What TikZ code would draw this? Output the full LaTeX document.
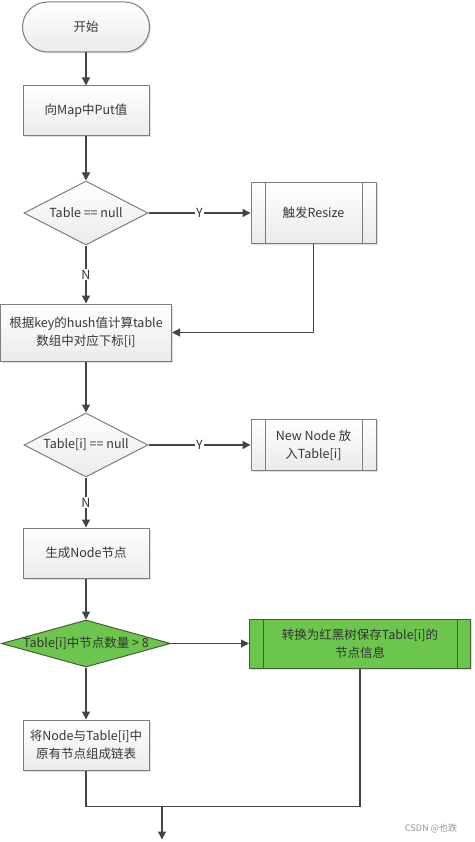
\documentclass[tikz,border=0pt]{standalone}
\usepackage{fontspec}
\setmainfont{Noto Sans CJK SC}
\usepackage{tikz}
\usetikzlibrary{arrows.meta,shapes,positioning,shadows}
\usepackage{xcolor}
\definecolor{fcline}{RGB}{68,68,68}
\definecolor{fcborder}{RGB}{125,125,125}
\definecolor{fctext}{RGB}{55,55,55}
\definecolor{fcgreen}{RGB}{108,198,78}
\definecolor{fcgreenborder}{RGB}{70,95,55}
\definecolor{fcmark}{RGB}{150,150,150}
\tikzstyle{arrow} = [line width=1.2pt,->,>={Triangle[length=8pt,width=8pt]},color=fcline]
\tikzstyle{line} = [line width=1.2pt,color=fcline]
\tikzstyle{procnode} = [rectangle, minimum width=126pt, minimum height=50pt, inner sep=0pt, align=center, draw=fcborder, top color=white, bottom color=black!8, line width=1pt, text=fctext, drop shadow={opacity=0.25,shadow xshift=1.5pt,shadow yshift=-1.5pt}]
\tikzstyle{termnode} = [procnode, rounded corners=25pt, minimum width=127pt]
\tikzstyle{decnode} = [diamond, aspect=2, minimum width=124pt, minimum height=64pt, inner sep=0pt, align=center, draw=fcborder, top color=white, bottom color=black!8, line width=1pt, text=fctext]
\tikzstyle{subnode} = [procnode, minimum width=125pt]
\tikzstyle{lbl} = [fill=white, inner sep=1pt, text=fctext]

\begin{document}
\begin{tikzpicture}[x=1pt, y=-1pt, font=\fontsize{12.5}{18}\selectfont]
\useasboundingbox[fill=white] (0,0) rectangle (474,842);

\node[termnode] (start) at (86,27) {开始};
\node[procnode, below=33pt of start] (put) {向Map中Put值};
\node[decnode, below=44pt of put] (d1) {Table == null};
\node[subnode, minimum height=60pt, right=102pt of d1] (resize) {触发Resize};
\node[procnode, minimum width=171pt, minimum height=57pt, below=58pt of d1] (hash) {根据key的hush值计算table\\数组中对应下标[i]};
\node[decnode, below=51pt of hash] (d2) {Table[i] == null};
\node[subnode, minimum height=51pt, right=102pt of d2] (newnode) {New Node 放\\入Table[i]};
\node[procnode, below=50pt of d2] (gen) {生成Node节点};
\node[decnode, minimum width=169pt, minimum height=47pt, aspect=3.6, inner xsep=-25pt, below=41pt of gen, top color=fcgreen, bottom color=fcgreen, draw=fcgreenborder, text=black!80] (d3) {Table[i]中节点数量 > 8};
\node[subnode, minimum width=221pt, minimum height=49pt, right=78pt of d3, top color=fcgreen, bottom color=fcgreen, draw=fcgreenborder, text=black!80] (green) {转换为红黑树保存Table[i]的\\节点信息};
\node[procnode, below=52pt of d3] (link) {将Node与Table[i]中\\原有节点组成链表};

\draw[line, fcborder, line width=1pt] ([xshift=15pt]resize.north west) -- ([xshift=15pt]resize.south west);
\draw[line, fcborder, line width=1pt] ([xshift=-14pt]resize.north east) -- ([xshift=-14pt]resize.south east);
\draw[line, fcborder, line width=1pt] ([xshift=15pt]newnode.north west) -- ([xshift=15pt]newnode.south west);
\draw[line, fcborder, line width=1pt] ([xshift=-14pt]newnode.north east) -- ([xshift=-14pt]newnode.south east);
\draw[line, fcgreenborder, line width=1pt] ([xshift=14pt]green.north west) -- ([xshift=14pt]green.south west);
\draw[line, fcgreenborder, line width=1pt] ([xshift=-14pt]green.north east) -- ([xshift=-14pt]green.south east);

\coordinate[below=36pt of link] (m1);
\coordinate (mid) at ([xshift=76pt]m1);
\coordinate[below=33pt of mid] (end);

\draw[arrow] (start) -- (put);
\draw[arrow] (put) -- (d1);
\draw[arrow] (d1) -- node[lbl] {Y} (resize);
\draw[arrow] (d1) -- node[lbl] {N} (hash);
\draw[arrow] (resize.south) |- (hash.east);
\draw[arrow] (hash) -- (d2);
\draw[arrow] (d2) -- node[lbl] {Y} (newnode);
\draw[arrow] (d2) -- node[lbl] {N} (gen);
\draw[arrow] (gen) -- (d3);
\draw[arrow] (d3) -- (green);
\draw[arrow] (d3) -- (link);
\draw[line] (link.south) -- (m1) -| (green.south);
\draw[arrow] (mid) -- (end);

\node[text=fcmark, font=\fontsize{9}{11}\selectfont] (mark) at (431,828) {CSDN @也跌};
\end{tikzpicture}
\end{document}
